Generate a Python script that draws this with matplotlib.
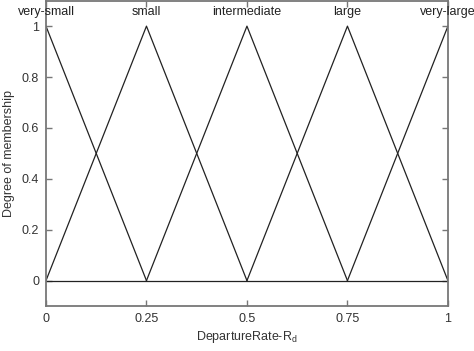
import matplotlib
matplotlib.use("Agg")
import matplotlib.pyplot as plt
import numpy as np

plt.rcParams['font.family'] = ['Liberation Sans', 'DejaVu Sans']

# Membership function data
labels = ['very-small', 'small', 'intermediate', 'large', 'very-large']
centers = [0, 0.25, 0.5, 0.75, 1]
half_width = 0.25
x_ticks = [0, 0.25, 0.5, 0.75, 1]
x_ticklabels = ['0', '0.25', '0.5', '0.75', '1']
y_ticks = [0, 0.2, 0.4, 0.6, 0.8, 1]
y_ticklabels = ['0', '0.2', '0.4', '0.6', '0.8', '1']

fig = plt.figure(figsize=(4.74, 3.51), dpi=100)
ax = fig.add_axes([0.097, 0.128, 0.848, 0.870])

line_color = '#222222'
for c, lab in zip(centers, labels):
    xs = [max(c - half_width, 0), c, min(c + half_width, 1)]
    ys = [1 - abs(x - c) / half_width for x in xs]
    ax.plot(xs, ys, color=line_color, linewidth=0.9)
    ax.text(c, 1.055, lab, ha='center', va='center', fontsize=9, color='#222222')

# baseline at zero
ax.plot([0, 1], [0, 0], color=line_color, linewidth=0.9)

ax.set_xlim(0, 1)
ax.set_ylim(-0.1, 1.1)
ax.set_xticks(x_ticks)
ax.set_xticklabels(x_ticklabels)
ax.set_yticks(y_ticks)
ax.set_yticklabels(y_ticklabels)
ax.tick_params(direction='in', top=True, right=True, length=4, width=1,
               color='#777777', labelsize=9, labelcolor='#333333', pad=5)
for s in ax.spines.values():
    s.set_color('#777777')
    s.set_linewidth(1.3)

ax.set_xlabel('DepartureRate-R$_\\mathregular{d}$', fontsize=9, color='#333333', labelpad=3)
ax.set_ylabel('Degree of membership', fontsize=9, color='#333333', labelpad=5)

fig.savefig('out.png', dpi=100)
